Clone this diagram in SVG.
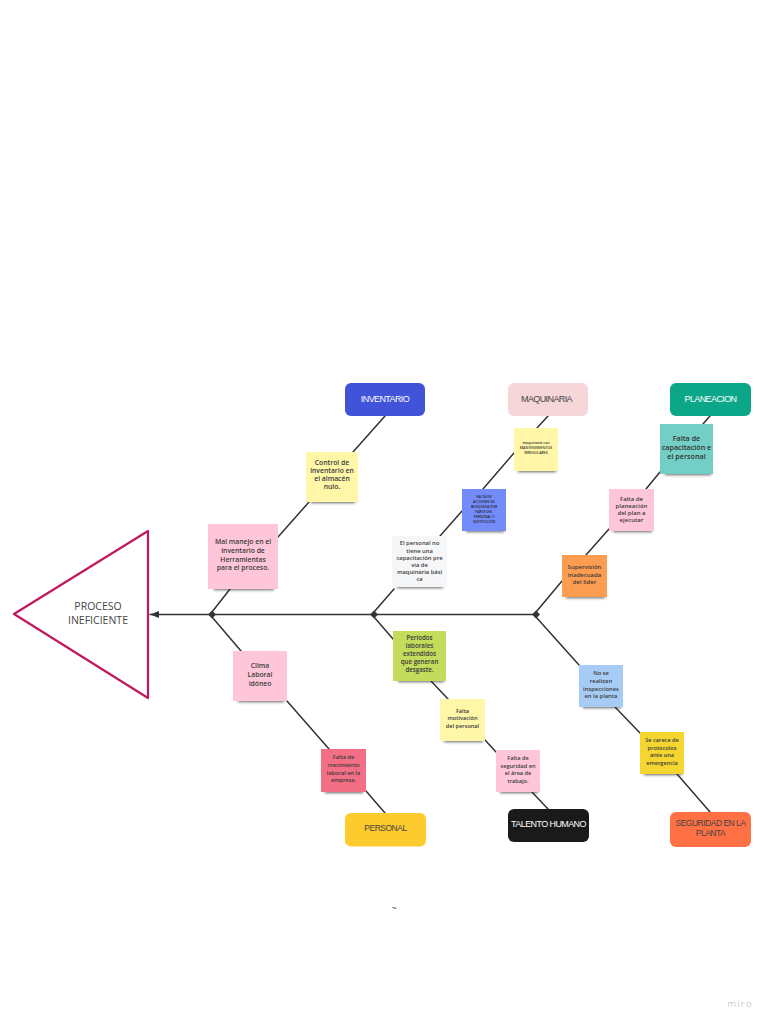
<svg xmlns="http://www.w3.org/2000/svg" width="768" height="1024" viewBox="0 0 768 1024">
<style>
text{font-family:"Open Sans","Noto Sans","DejaVu Sans",sans-serif;text-anchor:middle}
.c{fill:none;stroke:#333;stroke-width:1.5;stroke-linecap:round}
.s{fill:#222;opacity:.7;filter:url(#blur)}
.t{font-size:6.8px;font-weight:600;fill:#3a3a3a}
.h{font-family:"Liberation Sans",Arial,sans-serif;font-size:9px;letter-spacing:-.6px}
.h2{font-family:"Liberation Sans",Arial,sans-serif;font-size:8.5px;letter-spacing:-.5px}
</style>
<defs>
<filter id="blur" x="-20%" y="-100%" width="140%" height="300%"><feGaussianBlur stdDeviation="1.5"/></filter>
<marker id="arr" markerUnits="userSpaceOnUse" markerWidth="10" markerHeight="8" refX="9" refY="4" orient="auto"><path d="M0 0.5L9 4L0 7.5Z" fill="#333"/></marker>
</defs>
<rect width="768" height="1024" fill="#fff"/>
<g id="connectors">
<line class="c" x1="536" y1="614.5" x2="150" y2="614.5" marker-end="url(#arr)"/>
<path class="c" d="M385 416L353 452M309 502L278 537M230 589L212 612"/>
<path class="c" d="M548 416L537 428M514 453L483 489M462 511L440 536M394 589L374 612"/>
<path class="c" d="M710 416L703 424M660 472L646 489M609 529L586 555M562 581L536 612"/>
<path class="c" d="M212 617L241 651M287 701L329 749M366 791L385 813"/>
<path class="c" d="M374 617L393 639M431 681L448 699M485 740L496 752M532 792L548 809"/>
<path class="c" d="M536 617L579 665M615 707L640 733M677 774L710 812"/>
<path d="M212 610.5L216 614.5L212 618.5L208 614.5Z M374 610.5L378 614.5L374 618.5L370 614.5Z M536 610.5L540 614.5L536 618.5L532 614.5Z" fill="#333"/>
</g>
<g id="cabeza">
<path d="M148 531L14 614L148 698Z" fill="#fff" stroke="#c2185f" stroke-width="2.2" stroke-linejoin="round"/>
<text x="98" y="610" font-size="10.5" fill="#444">PROCESO</text>
<text x="98" y="624" font-size="10.5" fill="#444">INEFICIENTE</text>
</g>
<g id="inventario"><rect x="345" y="383" width="80" height="33" rx="6" fill="#4053d9"/><text class="h" x="385" y="402" fill="#fff">INVENTARIO</text></g>
<g id="maquinaria"><rect x="508" y="383" width="80" height="33" rx="6" fill="#f6d6d8"/><text class="h" x="541" y="402" fill="#444" style="text-anchor:start" dx="-20">MAQUINARIA</text></g>
<g id="planeacion"><rect x="670" y="383" width="81" height="33" rx="6" fill="#0ca789"/><text class="h" x="710.5" y="402" fill="#fff">PLANEACION</text></g>
<g id="personal"><rect x="345" y="813" width="81" height="33.5" rx="6" fill="#fdcb2e"/><text class="h2" x="385.5" y="831" fill="#444">PERSONAL</text></g>
<g id="talento"><rect x="508" y="809" width="81" height="33" rx="6" fill="#1a1a1a"/><text class="h" x="548.5" y="827" fill="#fff">TALENTO HUMANO</text></g>
<g id="seguridad"><rect x="670" y="812" width="81" height="35" rx="6" fill="#ff7045"/><text class="h2" x="710.5" y="826" fill="#444">SEGURIDAD EN LA</text><text class="h2" x="710.5" y="836" fill="#444">PLANTA</text></g>
<g id="n1"><rect class="s" x="311" y="497" width="44" height="6"/><rect x="306" y="452" width="52" height="50" fill="#fff6a8"/><text class="t" x="332" y="465">Control de</text><text class="t" x="332" y="473">inventario en</text><text class="t" x="332" y="481">el almacén</text><text class="t" x="332" y="489">nulo.</text></g>
<g id="n2"><rect class="s" x="214" y="584" width="60" height="6"/><rect x="208" y="524" width="70" height="65" fill="#ffc6d9"/><text class="t" x="243" y="544">Mal manejo en el</text><text class="t" x="243" y="553">inventario de</text><text class="t" x="243" y="561.5">Herramientas</text><text class="t" x="243" y="570">para el proceso.</text></g>
<g id="n3"><rect class="s" x="397" y="582" width="46" height="6"/><rect x="392" y="536" width="55" height="51" fill="#f5f6f8"/><g class="t" style="font-size:5.8px"><text x="419.5" y="545">El personal no</text><text x="419.5" y="552.5">tiene una</text><text x="419.5" y="560">capacitación pre</text><text x="419.5" y="567">via de</text><text x="419.5" y="574">maquinaria bási</text><text x="419.5" y="581">ca</text></g></g>
<g id="n4"><rect class="s" x="466" y="526" width="38" height="6"/><rect x="462" y="489" width="44" height="42" fill="#748cfa"/><g class="t" style="font-size:3.4px;fill:#222"><text x="484" y="498">FALTA DE</text><text x="484" y="503">ACCIONES DE</text><text x="484" y="508">BUSQUEDA POR</text><text x="484" y="513">PARTE DEL</text><text x="484" y="518">PERSONAL Y</text><text x="484" y="523">SUSTITUCIÓN</text></g></g>
<g id="n5"><rect class="s" x="518" y="466" width="38" height="6"/><rect x="514" y="428" width="44" height="43" fill="#fff6a8"/><g class="t" style="font-size:3.6px;fill:#333"><text x="536" y="444">maquinaria con</text><text x="536" y="449">MANTENIMIENTOS</text><text x="536" y="454">IRREGULARES</text></g></g>
<g id="n6"><rect class="s" x="665" y="469" width="46" height="6"/><rect x="660" y="424" width="53" height="50" fill="#73cfc5"/><g class="t" style="font-size:7.2px;fill:#333"><text x="686.5" y="441">Falta de</text><text x="686.5" y="450">capacitación e</text><text x="686.5" y="459">el personal</text></g></g>
<g id="n7"><rect class="s" x="613" y="526" width="39" height="6"/><rect x="609" y="489" width="45" height="42" fill="#ffc6d9"/><g class="t" style="font-size:6px"><text x="631.5" y="501">Falta de</text><text x="631.5" y="508">planeación</text><text x="631.5" y="515">del plan a</text><text x="631.5" y="522">ejecutar</text></g></g>
<g id="n8"><rect class="s" x="566" y="592" width="39" height="6"/><rect x="562" y="555" width="45" height="42" fill="#fd9d51"/><g class="t" style="font-size:6px"><text x="584.5" y="569">Supervisión</text><text x="584.5" y="576.5">inadecuada</text><text x="584.5" y="584">del líder</text></g></g>
<g id="n9"><rect class="s" x="238" y="696" width="46" height="6"/><rect x="233" y="651" width="54" height="50" fill="#ffc6d9"/><g class="t" style="font-size:6.8px"><text x="260" y="668">Clima</text><text x="260" y="676.5">Laboral</text><text x="260" y="686">idóneo</text></g></g>
<g id="n10"><rect class="s" x="325" y="787" width="38" height="6"/><rect x="321" y="749" width="45" height="43" fill="#f26f86"/><g class="t" style="font-size:5.6px"><text x="343.5" y="759">Falta de</text><text x="343.5" y="767">crecimiento</text><text x="343.5" y="774.5">laboral en la</text><text x="343.5" y="782">empresa.</text></g></g>
<g id="n11"><rect class="s" x="398" y="676" width="46" height="6"/><rect x="393" y="631" width="53" height="50" fill="#c3dc5c"/><g class="t" style="font-size:6.2px"><text x="419.5" y="640">Periodos</text><text x="419.5" y="648">laborales</text><text x="419.5" y="656">extendidos</text><text x="419.5" y="664">que generan</text><text x="419.5" y="672">desgaste.</text></g></g>
<g id="n12"><rect class="s" x="444" y="736" width="39" height="6"/><rect x="440" y="699" width="45" height="42" fill="#fff6a8"/><g class="t" style="font-size:5.6px"><text x="462.5" y="713">Falta</text><text x="462.5" y="720">motivación</text><text x="462.5" y="728">del personal</text></g></g>
<g id="n13"><rect class="s" x="500" y="787" width="38" height="6"/><rect x="496" y="750" width="44" height="42" fill="#ffc6d9"/><g class="t" style="font-size:5.6px"><text x="518" y="760">Falta de</text><text x="518" y="768">seguridad en</text><text x="518" y="775">el área de</text><text x="518" y="783">trabajo.</text></g></g>
<g id="n14"><rect class="s" x="583" y="702" width="38" height="6"/><rect x="579" y="665" width="44" height="42" fill="#a6ccf5"/><g class="t" style="font-size:5.8px"><text x="601" y="675">No se</text><text x="601" y="683">realizan</text><text x="601" y="690.5">inspecciones</text><text x="601" y="698">en la planta</text></g></g>
<g id="n15"><rect class="s" x="644" y="769" width="38" height="6"/><rect x="640" y="732" width="44" height="42" fill="#f5d52f"/><g class="t" style="font-size:5.6px"><text x="662" y="742">Se carece de</text><text x="662" y="750">protocolos</text><text x="662" y="757">ante una</text><text x="662" y="765">emergencia</text></g></g>
<text x="394" y="911" font-size="9" fill="#444">~</text>
<text x="740" y="1007" font-size="9.5" letter-spacing="1.2" fill="#c9c9cf">miro</text>
</svg>
